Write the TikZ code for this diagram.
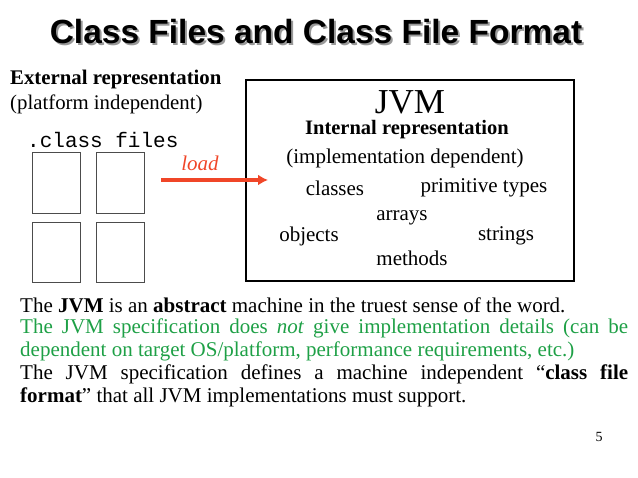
\documentclass[tikz,border=0pt]{standalone}
\usepackage{fontspec}
\usetikzlibrary{arrows.meta}
\setmainfont{Liberation Serif}
\newfontfamily\arial{Liberation Sans}
\newfontfamily\cour{Liberation Mono}
\definecolor{grn}{RGB}{30,160,70}
\definecolor{ldred}{RGB}{240,70,40}
\begin{document}
\begin{tikzpicture}[x=1pt,y=-1pt,
  txt/.style={inner sep=0pt,font=\fontsize{21}{24}\selectfont},
  file/.style={draw=black!70,line width=0.8pt},
  line/.style={txt,anchor=west}]
\useasboundingbox (0,0) rectangle (638,478);
\node[inner sep=0pt,font=\arial\bfseries\fontsize{33.5}{38}\selectfont,text=black!40] at (318,34) {Class Files and Class File Format};
\node[inner sep=0pt,font=\arial\bfseries\fontsize{33.5}{38}\selectfont] (title) at (316,32) {Class Files and Class File Format};
\node[line,font=\bfseries\fontsize{20.8}{24}\selectfont] (ext) at (10,80) {External representation};
\node[line,font=\fontsize{20.8}{24}\selectfont] (plat) at (10,104) {(platform independent)};
\node[line,font=\cour\fontsize{21}{24}\selectfont] (cf) at (27,140) {.class files};
\draw[file] (32,152) rectangle (80,213);
\draw[file] (96,152) rectangle (144,213);
\draw[file] (32,222) rectangle (80,282);
\draw[file] (96,222) rectangle (144,282);
\draw[line width=1.5pt] (246,80) rectangle (574,281);
\coordinate (a1) at (161,180);
\coordinate (a2) at (268,180);
\draw[ldred,line width=3.5pt,-{Latex[length=10pt,width=11pt]}] (a1) -- (a2);
\node[txt,text=ldred,font=\itshape\fontsize{21}{24}\selectfont] (load) at (200,163) {load};
\node[txt,font=\fontsize{35}{40}\selectfont] (jvm) at (410,102) {JVM};
\node[txt,font=\bfseries\fontsize{20.5}{24}\selectfont] (int) at (407,130) {Internal representation};
\node[txt] (impl) at (405,158) {(implementation dependent)};
\node[txt] (cls) at (335,188) {classes};
\node[txt] (prim) at (484,188) {primitive types};
\node[txt] (arr) at (402,218) {arrays};
\node[txt] (obj) at (309,236) {objects};
\node[txt] (str) at (506,236) {strings};
\node[txt] (meth) at (412,258) {methods};
\node[line] (l1) at (20,305) {The \textbf{JVM} is an \textbf{abstract} machine in the truest sense of the word.};
\node[line,text=grn] (l2) at (20,328) {\makebox[608pt][s]{The JVM specification does \textit{not} give implementation details (can be}};
\node[line,text=grn] (l3) at (20,351) {dependent on target OS/platform, performance requirements, etc.)};
\node[line] (l4) at (20,374) {\makebox[608pt][s]{The JVM specification defines a machine independent ``\textbf{class file}}};
\node[line] (l5) at (20,397) {\textbf{format}'' that all JVM implementations must support.};
\node[txt,font=\fontsize{14}{16}\selectfont] (pg) at (599,437) {5};
\end{tikzpicture}
\end{document}
